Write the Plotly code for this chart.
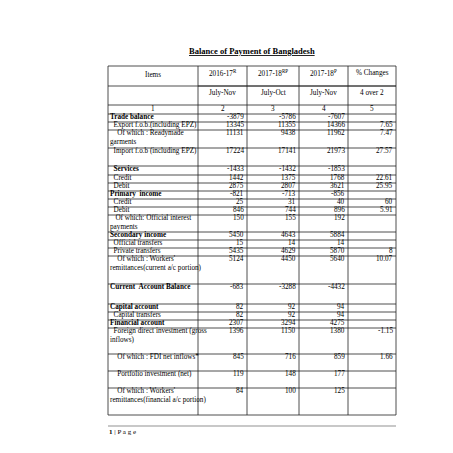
import plotly.graph_objects as go

TITLE = "Balance of Payment of Bangladesh"
HEAD1 = ["2016-17<sup>R</sup>", "2017-18<sup>RP</sup>", "2017-18<sup>P</sup>", "% Changes"]
HEAD2 = ["July-Nov", "July-Oct", "July-Nov", "4 over 2"]
HEAD3 = ["1", "2", "3", "4", "5"]

labels = [
    "<b>Trade balance</b>", "  Export f.o.b.(including EPZ)",
    "    Of which : Readymade<br>garments", "  Import f.o.b (including EPZ)",
    "<b>  Services</b>", "  Credit", "  Debit", "<b>Primary  income</b>", "  Credit", "  Debit",
    "   Of which: Official interest<br>payments", "<b>Secondary income</b>",
    "  Official transfers", "  Private transfers",
    "    Of which : Workers'<br>remittances(current a/c portion)",
    "<b>Current  Account Balance</b>", "<b>Capital account</b>", "  Capital transfers",
    "<b>Financial account</b>", "  Foreign direct investment (gross<br>inflows)",
    "    Of which : FDI net inflows*", "    Portfolio investment (net)",
    "    Of which : Workers'<br>remittances(financial a/c portion)",
]
col2 = [-3879, 13345, 11131, 17224, -1433, 1442, 2875, -821, 25, 846, 150, 5450, 15, 5435, 5124,
        -683, 82, 82, 2307, 1396, 845, 119, 84]
col3 = [-5786, 11355, 9438, 17141, -1432, 1375, 2807, -713, 31, 744, 155, 4643, 14, 4629, 4450,
        -3288, 92, 92, 3294, 1150, 716, 148, 100]
col4 = [-7607, 14366, 11962, 21973, -1853, 1768, 3621, -856, 40, 896, 192, 5884, 14, 5870, 5640,
        -4432, 94, 94, 4275, 1380, 859, 177, 125]
col5 = ["", "7.65", "7.47", "27.57", "", "22.61", "25.95", "", "60", "5.91", "", "", "", "8",
        "10.07", "", "", "", "", "-1.15", "1.66", "", ""]
heights = [8, 8, 18, 18, 9, 8, 8, 8, 8, 8, 17, 8, 8, 8, 28, 20, 8, 8, 8, 26, 17, 17, 27]

XS = [100, 190, 239, 291, 340, 388]
FONT = "Liberation Serif"
fig = go.Figure()
shapes, anns = [], []

def line(x0, y0, x1, y1, w=0.8):
    shapes.append(dict(type="line", x0=x0, y0=y0, x1=x1, y1=y1, line=dict(color="#222", width=w)))

def txt(x, y, s, anchor="center", size=7.2):
    if s == "":
        return
    anns.append(dict(x=x, y=y, text=s, showarrow=False, xanchor=anchor, yanchor="top",
                     align="left", borderpad=0, borderwidth=0,
                     font=dict(family=FONT, size=size, color="black")))

txt(244, 38, "<b><u>" + TITLE + "</u></b>", size=8.5)

top = 58
hb = [top, 78, 97, 106]
for y in hb:
    line(XS[0], y, XS[-1], y)
line(XS[1], 78, XS[-1], 78)
txt(145, 63, "Items")
for i in range(4):
    cx = (XS[i + 1] + XS[i + 2]) / 2
    txt(cx, 61, HEAD1[i])
    txt(cx, 81, HEAD2[i])
for i in range(5):
    txt((XS[i] + XS[i + 1]) / 2, 97, HEAD3[i])

y = 106
for i, lab in enumerate(labels):
    txt(XS[0] + 2, y - 1, lab.replace("  ", "&nbsp;&nbsp;"), anchor="left")
    for j, v in enumerate([col2[i], col3[i], col4[i], col5[i]]):
        txt(XS[j + 2] - 3, y - 1, str(v), anchor="right")
    y += heights[i]
    line(XS[0], y, XS[-1], y)
for x in XS:
    line(x, top, x, y)

line(100, 418, 388, 418, 0.5)
txt(101, 420, "<b>1</b> | P a g e", anchor="left", size=7)

fig.update_layout(width=453, height=453, margin=dict(l=0, r=0, t=0, b=0),
                  paper_bgcolor="white", plot_bgcolor="white", shapes=shapes, annotations=anns,
                  xaxis=dict(range=[0, 453], visible=False, fixedrange=True),
                  yaxis=dict(range=[453, 0], visible=False, fixedrange=True))
fig.write_html("out.html")
